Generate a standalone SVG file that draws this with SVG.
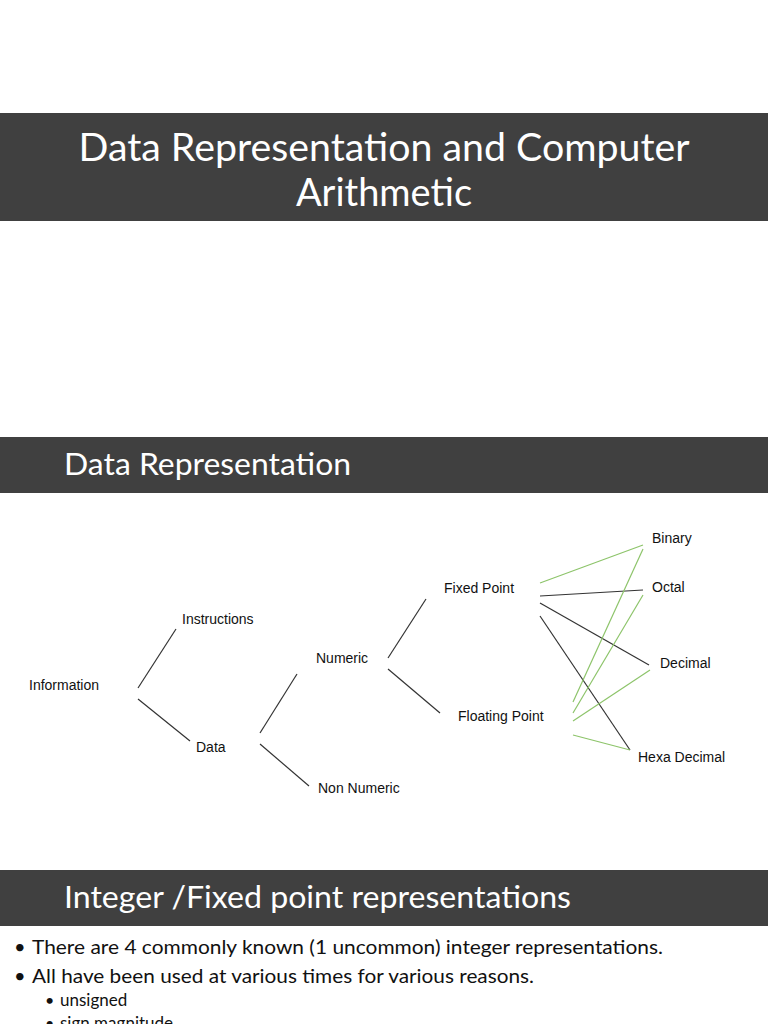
<svg xmlns="http://www.w3.org/2000/svg" width="768" height="1024" viewBox="0 0 768 1024">
<style>
.bar{fill:#404040}
.h{font-family:Lato,"Open Sans",sans-serif;fill:#fff}
.n{font-family:"Liberation Sans",Arial,sans-serif;font-size:14px;fill:#111}
.b{font-family:Lato,"Open Sans",sans-serif;fill:#111}
.k{stroke:#333;stroke-width:1.2;fill:none}
.g{stroke:#8dc46a;stroke-width:1.2;fill:none}
</style>
<rect width="768" height="1024" fill="#fff"/>
<rect class="bar" x="0" y="113" width="768" height="108"/>
<text class="h" x="384" y="161" font-size="38" text-anchor="middle" textLength="611" lengthAdjust="spacingAndGlyphs">Data Representation and Computer</text>
<text class="h" x="384" y="206" font-size="38" text-anchor="middle">Arithmetic</text>
<rect class="bar" x="0" y="437" width="768" height="56"/>
<text class="h" x="64" y="475" font-size="30" textLength="287" lengthAdjust="spacingAndGlyphs">Data Representation</text>
<rect class="bar" x="0" y="870" width="768" height="56"/>
<text class="h" x="64" y="908" font-size="30" textLength="507" lengthAdjust="spacingAndGlyphs">Integer /Fixed point representations</text>
<g id="nodes">
<g id="information"><text class="n" x="29" y="690">Information</text></g>
<g id="instructions"><text class="n" x="182" y="624">Instructions</text></g>
<g id="data"><text class="n" x="196" y="752">Data</text></g>
<g id="numeric"><text class="n" x="316" y="663">Numeric</text></g>
<g id="nonnumeric"><text class="n" x="318" y="793">Non Numeric</text></g>
<g id="fixed"><text class="n" x="444" y="593">Fixed Point</text></g>
<g id="floating"><text class="n" x="458" y="721">Floating Point</text></g>
<g id="binary"><text class="n" x="652" y="543">Binary</text></g>
<g id="octal"><text class="n" x="652" y="592">Octal</text></g>
<g id="decimal"><text class="n" x="660" y="668">Decimal</text></g>
<g id="hexa"><text class="n" x="638" y="762">Hexa Decimal</text></g>
</g>
<g id="connectors">
<line class="k" x1="138" y1="688" x2="176" y2="629"/>
<line class="k" x1="138" y1="699" x2="190" y2="741"/>
<line class="k" x1="260" y1="733" x2="297" y2="674"/>
<line class="k" x1="260" y1="744" x2="309" y2="786"/>
<line class="k" x1="388" y1="658" x2="426" y2="599"/>
<line class="k" x1="388" y1="669" x2="440" y2="713"/>
<line class="g" x1="540" y1="583" x2="643" y2="545"/>
<line class="k" x1="540" y1="596" x2="643" y2="590"/>
<line class="k" x1="540" y1="603" x2="649" y2="665"/>
<line class="k" x1="540" y1="616" x2="630" y2="750"/>
<line class="g" x1="573" y1="702" x2="643" y2="549"/>
<line class="g" x1="573" y1="713" x2="643" y2="595"/>
<line class="g" x1="573" y1="721" x2="650" y2="670"/>
<line class="g" x1="573" y1="735" x2="630" y2="750"/>
</g>
<text class="b" x="14" y="954" font-size="20">•</text>
<text class="b" x="32" y="954" font-size="20" textLength="631" lengthAdjust="spacingAndGlyphs">There are 4 commonly known (1 uncommon) integer representations.</text>
<text class="b" x="14" y="983" font-size="20">•</text>
<text class="b" x="32" y="983" font-size="20" textLength="502" lengthAdjust="spacingAndGlyphs">All have been used at various times for various reasons.</text>
<text class="b" x="45" y="1006" font-size="16">•</text>
<text class="b" x="60" y="1006" font-size="17">unsigned</text>
<text class="b" x="45" y="1029" font-size="16">•</text>
<text class="b" x="60" y="1029" font-size="17">sign magnitude</text>
</svg>
